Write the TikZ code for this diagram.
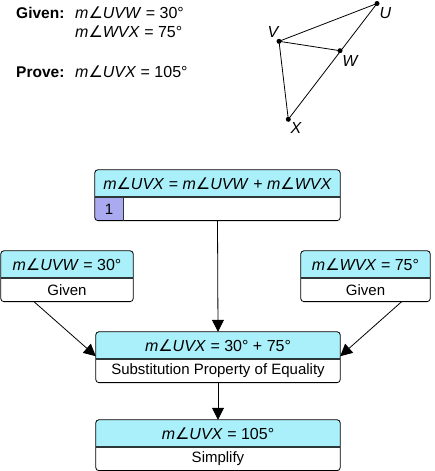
\documentclass[tikz,border=0pt]{standalone}
\usepackage{fontspec}
\setmainfont{Liberation Sans}
\newfontfamily\symfont{DejaVu Sans}
\usetikzlibrary{arrows.meta,positioning,calc,backgrounds}
\definecolor{stmtcyan}{RGB}{170,240,250}
\definecolor{numlav}{RGB}{170,170,240}
\definecolor{divgray}{RGB}{45,55,55}
\newcommand{\mang}[1]{\textit{m}{\symfont\char"2220}\textit{#1}}
\tikzset{
    stmtbox/.style={inner sep=0pt, minimum height=27pt, font=\fontsize{16}{18}\selectfont},
    rsnbox/.style={inner sep=0pt, minimum height=23pt, font=\fontsize{15}{17}\selectfont},
    numbox/.style={inner sep=0pt, minimum width=28pt, minimum height=23pt,
        font=\fontsize{15}{17}\selectfont},
    toptext/.style={inner sep=0pt, anchor=base west, font=\fontsize{16}{18}\selectfont},
    toplabel/.style={inner sep=0pt, anchor=base west, font=\fontsize{15.5}{18}\selectfont\bfseries},
    ptlabel/.style={inner sep=0pt, font=\fontsize{16}{18}\selectfont\itshape},
    ptdot/.style={circle, fill, inner sep=0pt, minimum size=5pt},
    proofarrow/.style={-{Triangle[length=12pt,width=12pt]}, line width=0.8pt}
}

\begin{document}
\begin{tikzpicture}[x=1pt,y=-1pt]
\useasboundingbox (0,0) rectangle (434,471);
% given / prove
\node[toplabel] (given) at (16,19) {Given:};
\node[toptext] (givenA) at (75,19) {\mang{UVW} = 30°};
\node[toptext] (givenB) at (75,37) {\mang{WVX} = 75°};
\node[toplabel] (prove) at (16,77) {Prove:};
\node[toptext] (proveA) at (75,77) {\mang{UVX} = 105°};
% figure
\node[ptdot] (U) at (377,3.5) {};
\node[ptdot] (V) at (279,41.3) {};
\node[ptdot] (W) at (340,50.7) {};
\node[ptdot] (X) at (288.3,119.3) {};
\draw[line width=0.8pt] (U.center) -- (V.center) -- (X.center) -- (U.center);
\draw[line width=0.8pt] (V.center) -- (W.center);
\node[ptlabel] (Ulab) at (385.5,13.5) {U};
\node[ptlabel] (Vlab) at (273,32) {V};
\node[ptlabel] (Wlab) at (350,60.5) {W};
\node[ptlabel] (Xlab) at (296,128) {X};
% proof boxes
\node[stmtbox, minimum width=245pt] (sum) at (217.5,183.5) {\mang{UVX} = \mang{UVW} + \mang{WVX}};
\node[rsnbox, minimum width=245pt, below=0pt of sum] (sum-r) {};
\node[numbox, anchor=north west] (num) at (sum.south west) {1};
\node[stmtbox, minimum width=132pt] (giv1) at (67,264.5) {\mang{UVW} = 30°};
\node[rsnbox, minimum width=132pt, below=0pt of giv1] (giv1-r) {Given};
\node[stmtbox, minimum width=129pt] (giv2) at (365.5,264.5) {\mang{WVX} = 75°};
\node[rsnbox, minimum width=129pt, below=0pt of giv2] (giv2-r) {Given};
\node[stmtbox, minimum width=244pt] (sub) at (218,345.5) {\mang{UVX} = 30° + 75°};
\node[rsnbox, minimum width=244pt, below=0pt of sub] (sub-r) {Substitution Property of Equality};
\node[stmtbox, minimum width=244pt] (res) at (218,433.5) {\mang{UVX} = 105°};
\node[rsnbox, minimum width=244pt, below=0pt of res] (res-r) {Simplify};
\begin{scope}[on background layer]
\foreach \s in {sum,giv1,giv2,sub,res} {
    \begin{scope}
    \clip[rounded corners=3pt] (\s.north west) rectangle (\s-r.south east);
    \fill[stmtcyan] (\s.north west) rectangle (\s.south east);
    \end{scope}
}
\begin{scope}
\clip[rounded corners=3pt] (sum.north west) rectangle (sum-r.south east);
\fill[numlav] (num.north west) rectangle (num.south east);
\end{scope}
\end{scope}
\foreach \s in {sum,giv1,giv2,sub,res} {
    \draw[line width=0.8pt, rounded corners=3pt] (\s.north west) rectangle (\s-r.south east);
    \draw[divgray, line width=1.6pt] (\s.south west) -- (\s.south east);
}
\draw[divgray, line width=1.2pt] (num.north east) -- (num.south east);
% arrows
\draw[proofarrow] (sum-r.south) -- (sub.north);
\draw[proofarrow] ($(giv1-r.south west)!0.25!(giv1-r.south east)$) -- ($(sub.south west)+(0,-3)$);
\draw[proofarrow] ($(giv2-r.south west)!0.78!(giv2-r.south east)$) -- ($(sub.south east)+(0,-3)$);
\draw[proofarrow] (sub-r.south) -- (res.north);
\end{tikzpicture}
\end{document}
